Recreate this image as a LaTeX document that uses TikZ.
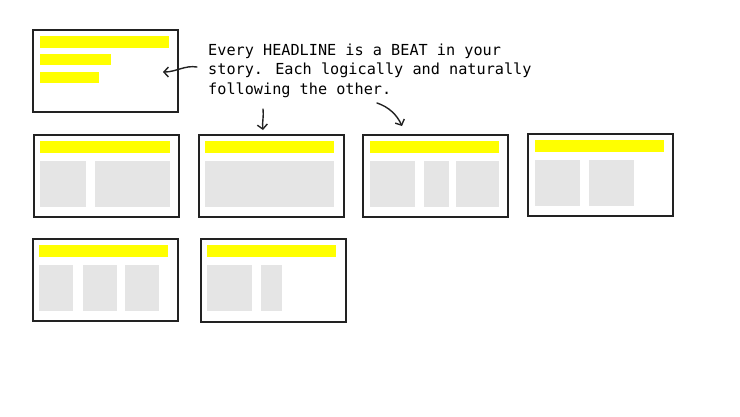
\documentclass[tikz,border=0pt]{standalone}
\usepackage{fontspec}
\newfontfamily\hand{DejaVu Sans Mono}
\usetikzlibrary{arrows.meta}
\definecolor{hl}{HTML}{FFFF00}
\definecolor{blk}{HTML}{E5E5E5}
\definecolor{ink}{HTML}{222222}
\begin{document}
\begin{tikzpicture}[x=1pt,y=-1pt,
  frame/.style={draw=ink,line width=1.8pt,fill=white,inner sep=0pt,outer sep=0pt,anchor=north west,minimum width=145pt,minimum height=82pt},
  bar/.style={fill=hl,inner sep=0pt,outer sep=0pt,anchor=north west,minimum height=12pt},
  blok/.style={fill=blk,inner sep=0pt,outer sep=0pt,anchor=north west,minimum height=46pt},
  pen/.style={draw=ink,line width=1.4pt,line cap=round,-{Straight Barb[length=4.5pt,width=10pt,line width=1.4pt]}}]
\useasboundingbox (0,0) rectangle (740,416);
\fill[white] (0,0) rectangle (740,416);
% top slide
\node[frame] (f0) at (33,30) {};
\node[bar,minimum width=129pt] (f0h1) at (40,36) {};
\node[bar,minimum width=71pt,minimum height=11pt] (f0h2) at (40,54) {};
\node[bar,minimum width=59pt,minimum height=11pt] (f0h3) at (40,72) {};
% row 2
\node[frame] (fA) at (34,135) {};
\node[bar,minimum width=130pt] (fAh) at (40,141) {};
\node[blok,minimum width=46pt] (fA1) at (40,161) {};
\node[blok,minimum width=75pt] (fA2) at (95,161) {};
\node[frame] (fB) at (199,135) {};
\node[bar,minimum width=129pt] (fBh) at (205,141) {};
\node[blok,minimum width=129pt] (fB1) at (205,161) {};
\node[frame] (fC) at (363,135) {};
\node[bar,minimum width=129pt] (fCh) at (370,141) {};
\node[blok,minimum width=45pt] (fC1) at (370,161) {};
\node[blok,minimum width=25pt] (fC2) at (424,161) {};
\node[blok,minimum width=43pt] (fC3) at (456,161) {};
\node[frame] (fD) at (528,134) {};
\node[bar,minimum width=129pt] (fDh) at (535,140) {};
\node[blok,minimum width=45pt] (fD1) at (535,160) {};
\node[blok,minimum width=45pt] (fD2) at (589,160) {};
% row 3
\node[frame] (fE) at (33,239) {};
\node[bar,minimum width=129pt] (fEh) at (39,245) {};
\node[blok,minimum width=34pt] (fE1) at (39,265) {};
\node[blok,minimum width=34pt] (fE2) at (83,265) {};
\node[blok,minimum width=34pt] (fE3) at (125,265) {};
\node[frame,minimum height=83pt] (fF) at (201,239) {};
\node[bar,minimum width=129pt] (fFh) at (207,245) {};
\node[blok,minimum width=45pt] (fF1) at (207,265) {};
\node[blok,minimum width=21pt] (fF2) at (261,265) {};
% text
\node[anchor=base west,inner sep=0pt,align=left,font=\hand\fontsize{15.2}{19.5}\selectfont,text=black] (note) at (208,94)
  {Every HEADLINE is a BEAT in your\\story. Each logically and naturally\\following the other.};
% arrows
\coordinate (s1) at (197,67);
\coordinate (e1) at (163,72);
\coordinate (s2) at (263,109);
\coordinate (e2) at (263,130);
\coordinate (s3) at (377,103);
\coordinate (e3) at (402,126);
\draw[pen] (s1) .. controls (185,65) and (176,72) .. (e1);
\draw[pen] (s2) .. controls (264,116) and (262,122) .. (e2);
\draw[pen] (s3) .. controls (389,107) and (397,115) .. (e3);
\end{tikzpicture}
\end{document}
